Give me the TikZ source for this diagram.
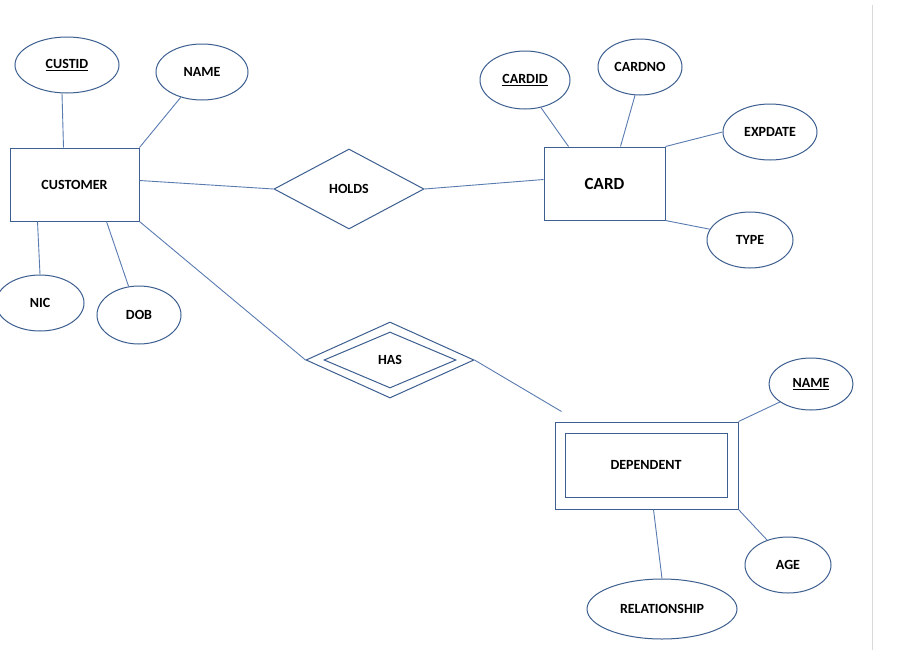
\documentclass[tikz,border=0pt]{standalone}
\usepackage{fontspec}
\setmainfont{Carlito}
\usetikzlibrary{shapes.geometric}
\definecolor{ln}{HTML}{5A7BB0}
\definecolor{el}{HTML}{3C5F8F}
\begin{document}
\begin{tikzpicture}[x=1pt,y=-1pt,
  every node/.style={font=\fontsize{14}{16}\selectfont\bfseries},
  att/.style={ellipse,draw=el,line width=1pt,inner sep=0pt},
  ent/.style={rectangle,draw=el,line width=1pt,inner sep=0pt},
  rel/.style={diamond,draw=el,line width=1pt,inner sep=0pt},
  con/.style={draw=ln,line width=0.9pt}]
\useasboundingbox (0,0) rectangle (916,670);
\fill[white] (0,0) rectangle (916,670);
\draw[gray!30,line width=1pt] (872,5) -- (872,650);
% customer
\node[ent,minimum width=129pt,minimum height=73pt] (cust) at (74.5,184.5) {CUSTOMER};
\node[att,minimum width=104pt,minimum height=56pt] (custid) at (67,65) {\underline{CUSTID}};
\node[att,minimum width=92pt,minimum height=56pt] (name) at (202,72) {NAME};
\node[att,minimum width=88pt,minimum height=56pt] (nic) at (40,303) {NIC};
\node[att,minimum width=84pt,minimum height=58pt] (dob) at (139,315) {DOB};
% holds
\node[rel,minimum width=150pt,minimum height=80pt] (holds) at (349,189) {HOLDS};
% card
\node[ent,minimum width=121pt,minimum height=73pt,font=\fontsize{17}{19}\selectfont\bfseries] (card) at (604.5,183.5) {CARD};
\node[att,minimum width=90pt,minimum height=58pt] (cardid) at (525,80) {\underline{CARDID}};
\node[att,minimum width=84pt,minimum height=56pt] (cardno) at (640,67) {CARDNO};
\node[att,minimum width=94pt,minimum height=56pt] (exp) at (770,132) {EXPDATE};
\node[att,minimum width=86pt,minimum height=56pt] (type) at (750,240) {TYPE};
% has
\node[rel,minimum width=168pt,minimum height=76pt] (has) at (390,360) {};
\node[rel,minimum width=132pt,minimum height=56pt] (hasi) at (390,360) {HAS};
% dependent
\node[ent,minimum width=183pt,minimum height=87pt] (dep) at (646.5,465.5) {};
\node[ent,minimum width=162pt,minimum height=64pt] (depi) at (646,465) {DEPENDENT};
\node[att,minimum width=84pt,minimum height=52pt] (dname) at (811,384) {\underline{NAME}};
\node[att,minimum width=86pt,minimum height=56pt] (age) at (788,565) {AGE};
\node[att,minimum width=150pt,minimum height=60pt] (relat) at (662,609) {RELATIONSHIP};
% connectors
\draw[con] (custid.-100) -- ([xshift=-11pt]cust.north);
\draw[con] (name.-130) -- (cust.north east);
\draw[con] (nic.north) -- ([xshift=-37pt]cust.south);
\draw[con] (dob.110) -- ([xshift=32pt]cust.south);
\draw[con] ([yshift=4pt]cust.east) -- (holds.west);
\draw[con] (holds.east) -- ([yshift=4pt]card.west);
\draw[con] (cardid.-60) -- ([xshift=-36pt]card.north);
\draw[con] (cardno.-100) -- ([xshift=16pt]card.north);
\draw[con] (exp.west) -- (card.north east);
\draw[con] (type.165) -- (card.south east);
\draw[con] (cust.south east) -- (has.west);
\draw[con] (has.east) -- ([xshift=7pt,yshift=10pt]dep.north west);
\draw[con] (dname.-150) -- (dep.north east);
\draw[con] (age.130) -- (dep.south east);
\draw[con] ([xshift=7pt]dep.south) -- (relat.north);
\end{tikzpicture}
\end{document}
